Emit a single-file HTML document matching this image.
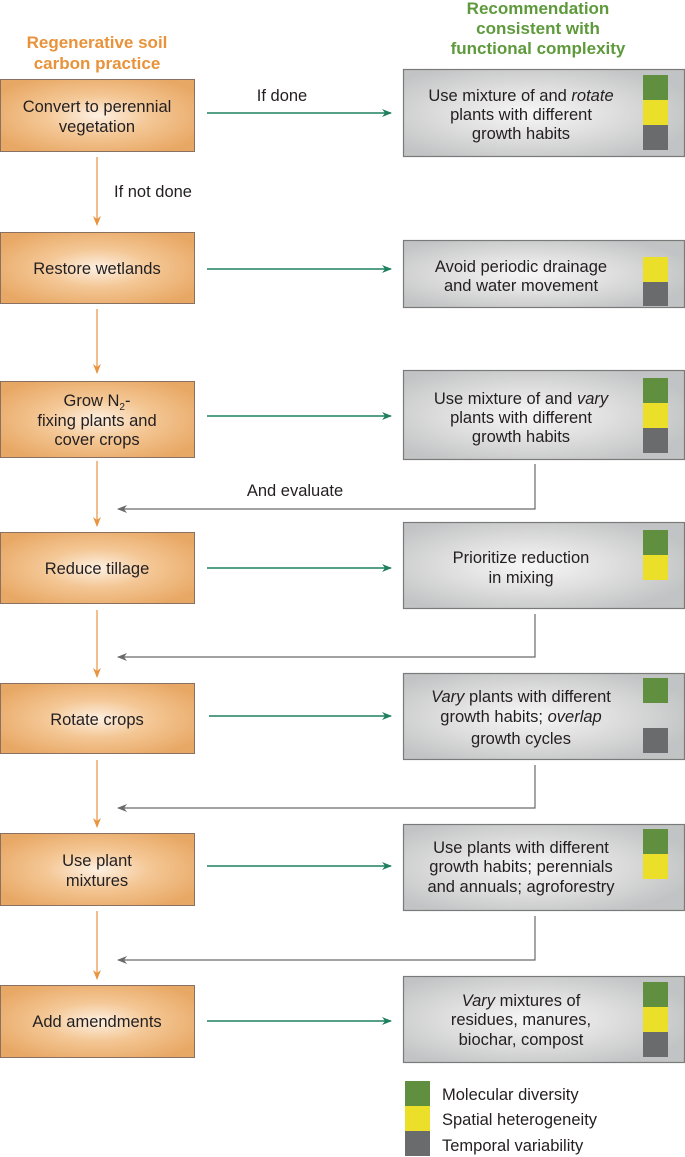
<!DOCTYPE html>
<html><head><meta charset="utf-8"><style>
html,body{margin:0;padding:0;background:#fff;}
svg{display:block;font-family:"Liberation Sans",Arial,sans-serif;}
</style></head><body>
<svg width="685" height="1157" viewBox="0 0 685 1157" xmlns="http://www.w3.org/2000/svg">
<defs>
<radialGradient id="og" cx="50%" cy="50%" r="60%" fx="50%" fy="50%">
<stop offset="0" stop-color="#fdf0e2"/><stop offset="0.45" stop-color="#f4c795"/><stop offset="1" stop-color="#e8a865"/>
</radialGradient>
<radialGradient id="gg" cx="45%" cy="50%" r="60%">
<stop offset="0" stop-color="#f7f7f7"/><stop offset="0.5" stop-color="#dedede"/><stop offset="1" stop-color="#c2c3c4"/>
</radialGradient>
<marker id="ga" markerWidth="10" markerHeight="10" refX="9" refY="5" orient="auto" markerUnits="userSpaceOnUse"><path d="M0,1 L10,5 L0,9 L3,5z" fill="#1f8060"/></marker>
<marker id="oa" markerWidth="10" markerHeight="10" refX="5" refY="9" orient="0" markerUnits="userSpaceOnUse"><path d="M1,0 L5,10 L9,0 L5,3z" fill="#e89440"/></marker>
<marker id="ka" markerWidth="10" markerHeight="10" refX="1" refY="5" orient="0" markerUnits="userSpaceOnUse"><path d="M10,1 L0,5 L10,9 L7,5z" fill="#6a6a6a"/></marker>
</defs>
<g font-weight="bold" font-size="17" text-anchor="middle">
<text x="97" y="48" fill="#e8923a">Regenerative soil</text>
<text x="97" y="69" fill="#e8923a">carbon practice</text>
<text x="538" y="14" fill="#5e9a3c">Recommendation</text>
<text x="538" y="34" fill="#5e9a3c">consistent with</text>
<text x="538" y="54" fill="#5e9a3c">functional complexity</text>
</g>
<g stroke="#8a7060" stroke-width="1" fill="url(#og)">
<rect x="0.5" y="79.5" width="194" height="72"/>
<rect x="0.5" y="232.5" width="194" height="71"/>
<rect x="0.5" y="381.5" width="194" height="76"/>
<rect x="0.5" y="532.5" width="194" height="71"/>
<rect x="0.5" y="683.5" width="194" height="70"/>
<rect x="0.5" y="833.5" width="194" height="72"/>
<rect x="0.5" y="985.5" width="194" height="72"/>
</g>
<g stroke="#7a7a7a" stroke-width="1.2" fill="url(#gg)">
<rect x="403.5" y="69.5" width="281" height="87"/>
<rect x="403.5" y="240.5" width="281" height="67"/>
<rect x="403.5" y="370.5" width="281" height="89"/>
<rect x="403.5" y="522.5" width="281" height="86"/>
<rect x="403.5" y="673.5" width="281" height="86"/>
<rect x="403.5" y="824.5" width="281" height="86"/>
<rect x="403.5" y="976.5" width="281" height="86"/>
</g>
<g>
<rect x="643" y="75" width="25" height="25" fill="#5f8f3f"/><rect x="643" y="100" width="25" height="25" fill="#ebdf2a"/><rect x="643" y="125" width="25" height="25" fill="#6a6b6d"/>
<rect x="643" y="257" width="25" height="25" fill="#ebdf2a"/><rect x="643" y="282" width="25" height="24" fill="#6a6b6d"/>
<rect x="643" y="378" width="25" height="25" fill="#5f8f3f"/><rect x="643" y="403" width="25" height="25" fill="#ebdf2a"/><rect x="643" y="428" width="25" height="25" fill="#6a6b6d"/>
<rect x="643" y="530" width="25" height="25" fill="#5f8f3f"/><rect x="643" y="555" width="25" height="25" fill="#ebdf2a"/>
<rect x="643" y="678" width="25" height="25" fill="#5f8f3f"/><rect x="643" y="728" width="25" height="25" fill="#6a6b6d"/>
<rect x="643" y="829" width="25" height="25" fill="#5f8f3f"/><rect x="643" y="854" width="25" height="25" fill="#ebdf2a"/>
<rect x="643" y="982" width="25" height="25" fill="#5f8f3f"/><rect x="643" y="1007" width="25" height="25" fill="#ebdf2a"/><rect x="643" y="1032" width="25" height="25" fill="#6a6b6d"/>
<rect x="405" y="1081" width="25" height="25" fill="#5f8f3f"/><rect x="405" y="1106" width="25" height="25" fill="#ebdf2a"/><rect x="405" y="1131" width="25" height="25" fill="#6a6b6d"/>
</g>
<g stroke="#1f8060" stroke-width="1.5" marker-end="url(#ga)">
<line x1="207" y1="113" x2="391" y2="113"/>
<line x1="207" y1="269" x2="391" y2="269"/>
<line x1="207" y1="416" x2="391" y2="416"/>
<line x1="207" y1="568" x2="391" y2="568"/>
<line x1="209" y1="716" x2="391" y2="716"/>
<line x1="207" y1="866" x2="391" y2="866"/>
<line x1="207" y1="1021" x2="391" y2="1021"/>
</g>
<g stroke="#e89440" stroke-width="1.2" marker-end="url(#oa)">
<line x1="97" y1="157" x2="97" y2="225"/>
<line x1="97" y1="309" x2="97" y2="373"/>
<line x1="97" y1="461" x2="97" y2="526"/>
<line x1="97" y1="610" x2="97" y2="677"/>
<line x1="97" y1="760" x2="97" y2="827"/>
<line x1="97" y1="911" x2="97" y2="979"/>
</g>
<g stroke="#6a6a6a" stroke-width="1.2" fill="none" marker-end="url(#ka)">
<polyline points="535,464 535,509 118,509"/>
<polyline points="535,614 535,657 118,657"/>
<polyline points="535,765 535,808 118,808"/>
<polyline points="535,916 535,960 118,960"/>
</g>
<g font-size="16.5" fill="#231f20" text-anchor="middle">
<text x="97" y="112">Convert to perennial</text>
<text x="97" y="132">vegetation</text>
<text x="97" y="274">Restore wetlands</text>
<text x="97" y="406">Grow N<tspan font-size="10" dy="4">2</tspan><tspan dy="-4">-</tspan></text>
<text x="97" y="426">fixing plants and</text>
<text x="97" y="445">cover crops</text>
<text x="97" y="574">Reduce tillage</text>
<text x="97" y="725">Rotate crops</text>
<text x="97" y="866">Use plant</text>
<text x="97" y="886">mixtures</text>
<text x="97" y="1027">Add amendments</text>
<text x="282" y="101">If done</text>
<text x="153" y="197">If not done</text>
<text x="295" y="496">And evaluate</text>
<text x="521" y="101">Use mixture of and <tspan font-style="italic">rotate</tspan></text>
<text x="521" y="120">plants with different</text>
<text x="521" y="139">growth habits</text>
<text x="521" y="272">Avoid periodic drainage</text>
<text x="521" y="291">and water movement</text>
<text x="521" y="404">Use mixture of and <tspan font-style="italic">vary</tspan></text>
<text x="521" y="423">plants with different</text>
<text x="521" y="442">growth habits</text>
<text x="521" y="563">Prioritize reduction</text>
<text x="521" y="583">in mixing</text>
<text x="521" y="702"><tspan font-style="italic">Vary</tspan> plants with different</text>
<text x="521" y="722">growth habits; <tspan font-style="italic">overlap</tspan></text>
<text x="521" y="744">growth cycles</text>
<text x="521" y="853">Use plants with different</text>
<text x="521" y="872">growth habits; perennials</text>
<text x="521" y="892">and annuals; agroforestry</text>
<text x="521" y="1006"><tspan font-style="italic">Vary</tspan> mixtures of</text>
<text x="521" y="1025">residues, manures,</text>
<text x="521" y="1045">biochar, compost</text>
</g>
<g font-size="16.5" fill="#231f20">
<text x="442" y="1100">Molecular diversity</text>
<text x="442" y="1125">Spatial heterogeneity</text>
<text x="442" y="1151">Temporal variability</text>
</g>
</svg>
</body></html>
